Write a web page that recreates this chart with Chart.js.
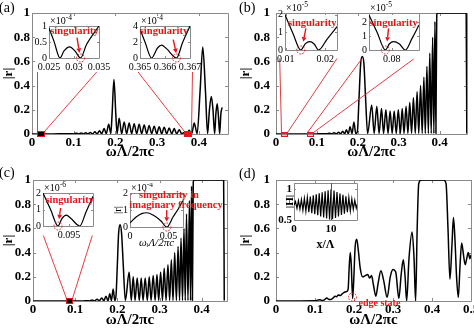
<!DOCTYPE html>
<html>
<head>
<meta charset="utf-8">
<script src="https://cdn.jsdelivr.net/npm/chart.js@4.4.1/dist/chart.umd.min.js"></script>
<style>
  html, body { margin: 0; padding: 0; background: #fff; }
  #fig { position: relative; width: 474px; height: 332px; overflow: hidden; }
  #fig canvas { position: absolute; }
</style>
</head>
<body>
<div id="fig"></div>
<script>
// ---- |r| spectra (omega*Lambda/2*pi*c vs |r|) ----
var aFreq = [0, 0.05, 0.095, 0.1, 0.106, 0.112, 0.118, 0.123, 0.129, 0.134, 0.14, 0.145, 0.151, 0.156, 0.162, 0.167, 0.173, 0.178, 0.184, 0.189,
  0.192, 0.1965, 0.201, 0.204, 0.209, 0.215, 0.221, 0.227, 0.233, 0.239, 0.245, 0.251, 0.257, 0.263, 0.269, 0.275, 0.281, 0.287, 0.293, 0.299,
  0.305, 0.311, 0.317, 0.323, 0.329, 0.335, 0.341, 0.347, 0.353, 0.359, 0.365, 0.371, 0.377, 0.383, 0.389, 0.396, 0.403, 0.4095, 0.416, 0.421,
  0.4255, 0.43, 0.434, 0.438, 0.441, 0.444, 0.447, 0.45, 0.453, 0.456];
var aAmp = [0, 0.001, 0.002, 0.001, 0.006, 0.001, 0.008, 0.001, 0.01, 0.001, 0.013, 0.001, 0.018, 0.001, 0.026, 0.002, 0.045, 0.002, 0.08, 0.003,
  0.16, 0.45, 0.16, 0.002, 0.13, 0.002, 0.1, 0.002, 0.09, 0.002, 0.085, 0.002, 0.08, 0.002, 0.075, 0.002, 0.07, 0.002, 0.065, 0.002,
  0.06, 0.002, 0.055, 0.002, 0.05, 0.002, 0.045, 0.002, 0.035, 0.002, 0.012, 0.001, 0.03, 0.002, 0.09, 0.003, 0.35, 0.72, 0.35, 0.003,
  0.2, 0.31, 0.2, 0.003, 0.17, 0.25, 0.15, 0.003, 0.17, 0.22];

var bFreq = [0, 0.1, 0.125, 0.13, 0.136, 0.142, 0.148, 0.153, 0.158, 0.163, 0.168, 0.172, 0.177, 0.181, 0.186, 0.1905, 0.195, 0.199, 0.203, 0.207,
  0.211, 0.215, 0.219, 0.224, 0.234, 0.24, 0.2465, 0.252, 0.258, 0.263, 0.2686, 0.274, 0.279, 0.284, 0.289, 0.294, 0.299, 0.304, 0.3086, 0.313,
  0.318, 0.3225, 0.327, 0.3315, 0.336, 0.3405, 0.345, 0.349, 0.3535, 0.3575, 0.3616, 0.365, 0.369, 0.3725, 0.376, 0.3795, 0.383, 0.386, 0.3886, 0.391,
  0.393, 0.395, 0.465, 0.4665];
var bAmp = [0, 0.001, 0.003, 0.006, 0.001, 0.01, 0.001, 0.015, 0.001, 0.022, 0.002, 0.035, 0.002, 0.06, 0.003, 0.1, 0.003, 0.02, 0.3, 0.58,
  0.64, 0.58, 0.3, 0.003, 0.24, 0.005, 0.23, 0.005, 0.21, 0.005, 0.2, 0.005, 0.19, 0.005, 0.19, 0.005, 0.2, 0.005, 0.21, 0.005,
  0.23, 0.005, 0.26, 0.005, 0.3, 0.005, 0.35, 0.005, 0.4, 0.005, 0.47, 0.005, 0.56, 0.005, 0.67, 0.005, 0.8, 0.005, 0.93, 0.005,
  0.98, 1, 1, 0.005];

var cFreq = [0, 0.12, 0.128, 0.134, 0.14, 0.146, 0.152, 0.157, 0.163, 0.168, 0.173, 0.178, 0.182, 0.186, 0.19, 0.194, 0.197, 0.2, 0.203, 0.2065,
  0.21, 0.214, 0.219, 0.228, 0.233, 0.2376, 0.242, 0.247, 0.252, 0.2566, 0.261, 0.266, 0.271, 0.2756, 0.28, 0.285, 0.2895, 0.294, 0.298, 0.3026,
  0.307, 0.311, 0.3155, 0.32, 0.324, 0.328, 0.332, 0.336, 0.34, 0.344, 0.3475, 0.351, 0.3545, 0.358, 0.361, 0.364, 0.3675, 0.371, 0.3735, 0.376,
  0.378, 0.38, 0.382, 0.452, 0.4535];
var cAmp = [0, 0.001, 0.003, 0.001, 0.008, 0.001, 0.015, 0.001, 0.025, 0.002, 0.04, 0.002, 0.06, 0.003, 0.1, 0.004, 0.05, 0.3, 0.56, 0.63,
  0.56, 0.3, 0.004, 0.24, 0.005, 0.2, 0.005, 0.19, 0.005, 0.19, 0.005, 0.19, 0.005, 0.2, 0.005, 0.21, 0.005, 0.22, 0.005, 0.24,
  0.005, 0.27, 0.005, 0.3, 0.005, 0.34, 0.005, 0.4, 0.005, 0.45, 0.005, 0.52, 0.005, 0.6, 0.005, 0.72, 0.005, 0.83, 0.005, 0.95,
  0.005, 0.98, 1, 1, 0.005];

var dFreq = [0, 0.1, 0.108, 0.113, 0.118, 0.125, 0.13, 0.136, 0.143, 0.148, 0.151, 0.155, 0.16, 0.165, 0.17, 0.174, 0.178, 0.182, 0.185, 0.188,
  0.1905, 0.193, 0.1965, 0.199, 0.203, 0.207, 0.211, 0.216, 0.222, 0.229, 0.235, 0.24, 0.245, 0.25, 0.256, 0.262, 0.269, 0.276, 0.285, 0.293,
  0.3, 0.307, 0.315, 0.321, 0.3265, 0.331, 0.335, 0.341, 0.349, 0.354, 0.358, 0.362, 0.366, 0.372, 0.43, 0.436, 0.441, 0.446, 0.451, 0.455,
  0.459, 0.463, 0.4675, 0.472, 0.476, 0.48, 0.485, 0.489, 0.493, 0.497, 0.5];
var dAmp = [0, 0.002, 0.008, 0.01, 0.004, 0.012, 0.025, 0.012, 0.016, 0.03, 0.04, 0.035, 0.05, 0.045, 0.06, 0.07, 0.075, 0.08, 0.1, 0.3,
  0.4, 0.3, 0.02, 0.15, 0.45, 0.51, 0.42, 0.27, 0.2, 0.21, 0.22, 0.19, 0.21, 0.13, 0.04, 0.15, 0.25, 0.17, 0.03, 0.2,
  0.26, 0.24, 0.02, 0.22, 0.34, 0.2, 0.0, 0.35, 0.57, 0.35, 0.0, 0.6, 0.97, 1.0, 1.0, 0.97, 0.6, 0.18, 0.45, 0.69,
  0.5, 0.2, 0.03, 0.3, 0.48, 0.4, 0.3, 0.35, 0.4, 0.35, 0.38];

// ---- close-ups around the singularities (amplitudes in units of the x10^n label) ----
var a1Freq = [0.025, 0.026, 0.0272, 0.028, 0.0291, 0.0302, 0.0313, 0.0325, 0.035];
var a1Amp = [0.93, 0.52, 0, 0.22, 0.35, 0.22, 0, 0.42, 1.0];
var a2Freq = [0.365, 0.3652, 0.36546, 0.3657, 0.36586, 0.36605, 0.36646, 0.3667, 0.367];
var a2Amp = [3.6, 2.0, 0, 1.25, 1.6, 1.2, 0, 1.9, 4.0];
var b1Freq = [0.0098, 0.0118, 0.0138, 0.015, 0.0161, 0.0172, 0.0183, 0.0205, 0.023];
var b1Amp = [2.0, 0.95, 0, 0.36, 0.47, 0.34, 0, 0.62, 1.32];
var b2Freq = [0.075, 0.0768, 0.0786, 0.0795, 0.0804, 0.0817, 0.083, 0.0845, 0.086];
var b2Amp = [2.5, 1.25, 0, 0.45, 0.6, 0.43, 0, 0.85, 1.79];
var c1Freq = [0.0938, 0.09415, 0.09449, 0.09467, 0.09487, 0.09509, 0.09549, 0.09578, 0.0961];
var c1Amp = [2.0, 1.0, 0, 0.45, 0.66, 0.45, 0, 0.85, 1.8];
var c2Imag = [0, 0.008, 0.016, 0.022, 0.03, 0.04, 0.048, 0.056, 0.063, 0.069];
var c2Amp = [0.25, 0.6, 0.82, 0.86, 0.72, 0.38, 0, 0.6, 1.1, 1.6];

// |H| field profile of the edge state
var dPos = [0, 0.4, 0.8, 1.2, 1.6, 2.0, 2.4, 2.8, 3.2, 3.6, 4.0, 4.4, 4.8, 5.2, 5.6, 6.0, 6.4, 6.8, 7.2, 7.6, 8.0, 8.4,
  8.8, 9.2, 9.6, 10.0, 10.4, 10.8, 11.2, 11.6, 12.0, 12.4, 12.8, 13.2, 13.6, 14.0, 14.4, 14.8, 15.2, 15.6, 16.0, 16.4, 16.8, 17];
var dField = [0.74, 0.8, 0.69, 0.815, 0.676, 0.832, 0.66, 0.849, 0.643, 0.866, 0.626, 0.882, 0.609, 0.899, 0.592, 0.916, 0.576, 0.933, 0.559, 0.95, 0.542, 0.966,
  0.525, 0.983, 0.508, 1.0, 0.511, 0.977, 0.534, 0.954, 0.557, 0.931, 0.58, 0.908, 0.603, 0.886, 0.626, 0.863, 0.649, 0.84, 0.672, 0.817, 0.695, 0.75];

// ---- tick values ----
var freqTicks = [0, 0.1, 0.2, 0.3, 0.4];
var freqTicksD = [0, 0.1, 0.2, 0.3, 0.4, 0.5];
var rTicks = [0, 0.2, 0.4, 0.6, 0.8, 1];
var a1XTicks = [0.025, 0.03, 0.035], a1YTicks = [0, 0.5, 1];
var a2XTicks = [0.365, 0.366, 0.367], a2YTicks = [0, 2, 4];
var b1XTicks = [0.01, 0.02], b1YTicks = [0, 1, 2];
var b2XTicks = [0.08], b2YTicks = [0, 1, 2];
var c1XTicks = [0.095], c1YTicks = [0, 1, 2];
var c2XTicks = [0, 0.05], c2YTicks = [0, 1, 2];
var dInXTicks = [0, 10], dInYTicks = [0.5, 1];

var RED = '#e5161d';
var LINK = 'rgba(224, 40, 44, 0.9)';
var MARK_FILL = 'rgba(240, 150, 152, 0.55)';
var FRAME = '#8a8a8a';
var SERIF = "'Liberation Serif', 'Times New Roman', serif";

Chart.defaults.font.family = SERIF;
Chart.defaults.color = '#000';

var fig = document.getElementById('fig');

function addCanvas(left, top, w, h) {
  var c = document.createElement('canvas');
  c.width = w; c.height = h;
  c.style.left = left + 'px'; c.style.top = top + 'px';
  c.style.width = w + 'px'; c.style.height = h + 'px';
  fig.appendChild(c);
  return c;
}

function zipPoints(xs, ys) {
  return xs.map(function (x, i) { return { x: x, y: ys[i] }; });
}

function fixedTicks(values) {
  return function (scale) {
    scale.ticks = values.map(function (v) { return { value: v }; });
  };
}

function tickText(v) { return String(v); }

// box + inward tick marks on all four sides
var frameTicks = {
  id: 'frameTicks',
  beforeDraw: function (chart, args, opts) {
    if (!opts.fill) return;
    var a = chart.chartArea, ctx = chart.ctx;
    ctx.save();
    ctx.fillStyle = opts.fill;
    ctx.fillRect(a.left, a.top, a.right - a.left, a.bottom - a.top);
    ctx.restore();
  },
  beforeDatasetsDraw: function (chart, args, opts) {
    var ctx = chart.ctx, a = chart.chartArea, sx = chart.scales.x, sy = chart.scales.y, n = opts.len;
    ctx.save();
    ctx.strokeStyle = FRAME;
    ctx.lineWidth = 1;
    ctx.beginPath();
    sx.ticks.forEach(function (t) {
      var p = Math.round(sx.getPixelForValue(t.value)) + 0.5;
      ctx.moveTo(p, a.bottom); ctx.lineTo(p, a.bottom - n);
      ctx.moveTo(p, a.top); ctx.lineTo(p, a.top + n);
    });
    sy.ticks.forEach(function (t) {
      var p = Math.round(sy.getPixelForValue(t.value)) + 0.5;
      ctx.moveTo(a.left, p); ctx.lineTo(a.left + n, p);
      ctx.moveTo(a.right, p); ctx.lineTo(a.right - n, p);
    });
    ctx.rect(Math.round(a.left) + 0.5, Math.round(a.top) + 0.5,
      Math.round(a.right - a.left), Math.round(a.bottom - a.top));
    ctx.stroke();
    ctx.restore();
  }
};

function drawArrow(ctx, x1, y1, x2, y2) {
  var ang = Math.atan2(y2 - y1, x2 - x1), h = 4.5, w = 2.4;
  var bx = x2 - h * Math.cos(ang), by = y2 - h * Math.sin(ang);
  ctx.beginPath();
  ctx.moveTo(x1, y1); ctx.lineTo(bx, by);
  ctx.stroke();
  ctx.beginPath();
  ctx.moveTo(x2, y2);
  ctx.lineTo(bx + w * Math.sin(ang), by - w * Math.cos(ang));
  ctx.lineTo(bx - w * Math.sin(ang), by + w * Math.cos(ang));
  ctx.closePath();
  ctx.fill();
}

function dashedCircle(ctx, x, y, r) {
  ctx.save();
  ctx.setLineDash([1.6, 1.4]);
  ctx.lineWidth = 1;
  ctx.beginPath();
  ctx.arc(x, y, r, 0, Math.PI * 2);
  ctx.stroke();
  ctx.restore();
}

// exponent label, red notes, arrows and circles inside the close-ups
var insetNotes = {
  id: 'insetNotes',
  afterDatasetsDraw: function (chart, args, o) {
    var ctx = chart.ctx, sx = chart.scales.x, sy = chart.scales.y, a = chart.chartArea;
    ctx.save();
    if (o.vline !== undefined) {
      var vx = Math.round(sx.getPixelForValue(o.vline)) + 0.5;
      ctx.strokeStyle = RED; ctx.lineWidth = 1;
      ctx.beginPath(); ctx.moveTo(vx, a.top); ctx.lineTo(vx, a.bottom); ctx.stroke();
    }
    if (o.exp) {
      ctx.fillStyle = '#000';
      ctx.textAlign = 'left'; ctx.textBaseline = 'alphabetic';
      ctx.font = '10px ' + SERIF;
      ctx.fillText('\u00d710', a.left + 1, a.top - 2);
      var w = ctx.measureText('\u00d710').width;
      ctx.font = '7.5px ' + SERIF;
      ctx.fillText(o.exp, a.left + 1 + w, a.top - 6.5);
    }
    ctx.strokeStyle = RED; ctx.fillStyle = RED; ctx.lineWidth = 1.4;
    if (o.arrow) {
      drawArrow(ctx, sx.getPixelForValue(o.arrow[0]), sy.getPixelForValue(o.arrow[1]),
        sx.getPixelForValue(o.arrow[2]), sy.getPixelForValue(o.arrow[3]));
    }
    if (o.circle) {
      dashedCircle(ctx, sx.getPixelForValue(o.circle[0]), sy.getPixelForValue(o.circle[1]), 4);
    }
    ctx.font = 'bold 10.5px ' + SERIF;
    ctx.textAlign = 'center'; ctx.textBaseline = 'middle';
    (o.notes || []).forEach(function (n) {
      ctx.fillText(n[0], sx.getPixelForValue(n[1]), sy.getPixelForValue(n[2]));
    });
    ctx.restore();
  }
};

// panel letter, zoom squares with their connector lines, edge-state marker
var zoomLinks = {
  id: 'zoomLinks',
  afterDraw: function (chart, args, o) {
    var ctx = chart.ctx, sx = chart.scales.x, sy = chart.scales.y;
    var ox = o.origin[0], oy = o.origin[1];
    var y0 = Math.round(sy.getPixelForValue(0));
    ctx.save();
    ctx.globalAlpha = 1;
    ctx.globalCompositeOperation = 'source-over';
    ctx.setLineDash([]);
    ctx.lineWidth = 1;
    (o.marks || []).forEach(function (m) {
      var px = Math.round(sx.getPixelForValue(m.x));
      var l = px - Math.floor(m.w / 2), t = y0 - Math.floor(m.h / 2);
      ctx.strokeStyle = LINK;
      m.from.forEach(function (p, k) {
        ctx.beginPath();
        ctx.moveTo(p[0] - ox, p[1] - oy);
        ctx.lineTo(k === 0 ? l + 0.5 : l + m.w - 0.5, t + 0.5);
        ctx.stroke();
      });
      // tinted interior, then a 1px red outline built from filled strips
      ctx.fillStyle = m.fill || MARK_FILL;
      ctx.fillRect(l + 1, t + 1, m.w - 2, m.h - 2);
      ctx.fillStyle = RED;
      ctx.fillRect(l, t, m.w, 1);
      ctx.fillRect(l, t + m.h - 1, m.w, 1);
      ctx.fillRect(l, t, 1, m.h);
      ctx.fillRect(l + m.w - 1, t, 1, m.h);
    });
    if (o.edge) {
      var ex = sx.getPixelForValue(o.edge.x), ey = sy.getPixelForValue(o.edge.y);
      ctx.strokeStyle = RED; ctx.fillStyle = RED;
      dashedCircle(ctx, ex, ey, 4);
      ctx.font = 'bold 10px ' + SERIF;
      ctx.textAlign = 'left'; ctx.textBaseline = 'middle';
      ctx.fillText(o.edge.text, ex + 6, ey + 6);
    }
    ctx.fillStyle = '#000';
    ctx.font = '14px ' + SERIF;
    ctx.textAlign = 'left'; ctx.textBaseline = 'middle';
    ctx.fillText(o.label, o.labelAt[0] - ox, o.labelAt[1] - oy);
    ctx.restore();
  }
};

function makePanel(p) {
  var W = 237, H = 166;
  var cv = addCanvas(p.origin[0], p.origin[1], W, H);
  return new Chart(cv, {
    type: 'line',
    data: {
      datasets: [{
        data: zipPoints(p.freq, p.amp),
        borderColor: '#000',
        borderWidth: 1.5,
        pointRadius: 0,
        cubicInterpolationMode: 'monotone'
      }]
    },
    options: {
      responsive: false,
      animation: false,
      devicePixelRatio: 1,
      events: [],
      layout: { padding: { left: 0, top: p.area[1], right: W - p.area[2], bottom: 0 } },
      plugins: {
        legend: { display: false },
        tooltip: { enabled: false },
        frameTicks: { len: 3 },
        zoomLinks: { origin: p.origin, label: p.label, labelAt: p.labelAt, marks: p.marks, edge: p.edge }
      },
      scales: {
        x: {
          type: 'linear', min: 0, max: p.xMax,
          grid: { display: false, drawTicks: false },
          border: { display: false },
          afterBuildTicks: fixedTicks(p.xTicks),
          afterFit: function (s) { s.height = H - p.area[3]; s.paddingLeft = 0; s.paddingRight = 0; },
          ticks: { autoSkip: false, maxRotation: 0, padding: 1, color: '#000', font: { size: 13, weight: 'bold' }, callback: tickText },
          title: { display: true, text: '\u03c9\u039b/2\u03c0c', color: '#000', font: { size: 15, weight: 'bold' }, padding: { top: 0, bottom: p.titlePad } }
        },
        y: {
          type: 'linear', min: 0, max: 1,
          grid: { display: false, drawTicks: false },
          border: { display: false },
          afterBuildTicks: fixedTicks(rTicks),
          afterFit: function (s) { s.width = p.area[0]; s.paddingTop = 0; s.paddingBottom = 0; },
          ticks: { autoSkip: false, padding: p.yPad, color: '#000', font: { size: 13, weight: 'bold' }, callback: tickText },
          title: { display: true, text: '|r|', color: '#000', font: { size: 13, weight: 'bold' }, padding: { top: 0.5, bottom: 0 } }
        }
      }
    },
    plugins: [frameTicks, zoomLinks]
  });
}

function makeInset(s) {
  var bw = s.box[2] - s.box[0], bh = s.box[3] - s.box[1];
  var w = bw + s.pad[0] + s.pad[2], h = bh + s.pad[1] + s.pad[3];
  var cv = addCanvas(s.box[0] - s.pad[0], s.box[1] - s.pad[1], w, h);
  var tickFont = s.bold ? { size: 11, weight: 'bold' } : { size: 10, weight: 'normal' };
  return new Chart(cv, {
    type: 'line',
    data: {
      datasets: [{
        data: zipPoints(s.xs, s.ys),
        borderColor: '#000',
        borderWidth: 1.2,
        pointRadius: 0,
        cubicInterpolationMode: s.zigzag ? 'default' : 'monotone',
        tension: 0
      }]
    },
    options: {
      responsive: false,
      animation: false,
      devicePixelRatio: 1,
      events: [],
      layout: { padding: { left: 0, top: s.pad[1], right: s.pad[2], bottom: 0 } },
      plugins: {
        legend: { display: false },
        tooltip: { enabled: false },
        frameTicks: { len: 2, fill: '#fff' },
        insetNotes: s.notes
      },
      scales: {
        x: {
          type: 'linear', min: s.xRange[0], max: s.xRange[1],
          grid: { display: false, drawTicks: false },
          border: { display: false },
          afterBuildTicks: fixedTicks(s.xTicks),
          afterFit: function (sc) { sc.height = s.pad[3]; sc.paddingLeft = 0; sc.paddingRight = 0; },
          ticks: { autoSkip: false, maxRotation: 0, padding: 3, color: '#000', font: tickFont, callback: tickText },
          title: s.xTitle ? {
            display: true, text: s.xTitle.text, color: '#000',
            font: s.xTitle.font, padding: { top: 0, bottom: s.xTitle.pad }
          } : { display: false }
        },
        y: {
          type: 'linear', min: s.yRange[0], max: s.yRange[1],
          grid: { display: false, drawTicks: false },
          border: { display: false },
          afterBuildTicks: fixedTicks(s.yTicks),
          afterFit: function (sc) { sc.width = s.pad[0]; sc.paddingTop = 0; sc.paddingBottom = 0; },
          ticks: { autoSkip: false, padding: 2, color: '#000', font: tickFont, callback: tickText },
          title: s.yTitle ? {
            display: true, text: s.yTitle.text, color: '#000',
            font: s.yTitle.font, padding: { top: s.yTitle.pad, bottom: 0 }
          } : { display: false }
        }
      }
    },
    plugins: [frameTicks, insetNotes]
  });
}

// ---- main panels ----
makePanel({
  origin: [0, 0], area: [32, 13, 228, 134], xMax: 0.47, xTicks: freqTicks,
  freq: aFreq, amp: aAmp, yPad: 2, titlePad: 5, label: '(a)', labelAt: [-1, 8],
  marks: [
    { x: 0.0225, w: 8, h: 6, from: [[37.5, 72], [96.7, 72]] },
    { x: 0.373, w: 8, h: 6, from: [[138, 72], [192.5, 72]] }
  ]
});
makePanel({
  origin: [237, 0], area: [39, 13, 230, 134], xMax: 0.467, xTicks: freqTicks,
  freq: bFreq, amp: bAmp, yPad: 6, titlePad: 5, label: '(b)', labelAt: [239, 8],
  marks: [
    { x: 0.0204, w: 7, h: 5, fill: 'rgba(232, 90, 95, 0.45)', from: [[279.7, 58.5], [337, 58.5]] },
    { x: 0.0833, w: 7, h: 5, fill: 'rgba(232, 90, 95, 0.45)', from: [[362, 58.5], [413.7, 59]] }
  ]
});
makePanel({
  origin: [0, 166], area: [33, 14, 227, 135], xMax: 0.46, xTicks: freqTicks,
  freq: cFreq, amp: cAmp, yPad: 2, titlePad: 3, label: '(c)', labelAt: [-1, 173],
  marks: [
    { x: 0.0848, w: 7, h: 6, from: [[43.3, 235.5], [92.3, 235.5]] }
  ]
});
makePanel({
  origin: [237, 166], area: [39, 14, 234, 135], xMax: 0.5, xTicks: freqTicksD,
  freq: dFreq, amp: dAmp, yPad: 6, titlePad: 3, label: '(d)', labelAt: [239, 174],
  edge: { x: 0.196, y: 0.033, text: 'edge state' }
});

// ---- close-ups ----
makeInset({
  box: [49, 26, 99, 58], pad: [18, 12, 16, 16],
  xs: a1Freq, ys: a1Amp, xRange: [0.025, 0.035], yRange: [0, 1], xTicks: a1XTicks, yTicks: a1YTicks,
  notes: { exp: '-4', circle: [0.0313, 0], arrow: [0.0306, 0.64, 0.0311, 0.16], notes: [['singularity', 0.0301, 0.84]] }
});
makeInset({
  box: [140, 26, 190, 58], pad: [18, 12, 16, 16],
  xs: a2Freq, ys: a2Amp, xRange: [0.365, 0.367], yRange: [0, 4], xTicks: a2XTicks, yTicks: a2YTicks,
  notes: { exp: '-4', circle: [0.36646, 0], arrow: [0.36633, 2.3, 0.36645, 0.6], notes: [['singularity', 0.36596, 3.37]] }
});
makeInset({
  box: [285, 13, 337, 50], pad: [14, 12, 12, 14],
  xs: b1Freq, ys: b1Amp, xRange: [0.0098, 0.023], yRange: [0, 2.1], xTicks: b1XTicks, yTicks: b1YTicks,
  notes: { exp: '-5', circle: [0.0138, 0], arrow: [0.0151, 1.23, 0.01445, 0.47], notes: [['singularity', 0.0167, 1.52]] }
});
makeInset({
  box: [369, 13, 419, 50], pad: [14, 12, 12, 14],
  xs: b2Freq, ys: b2Amp, xRange: [0.075, 0.086], yRange: [0, 2.65], xTicks: b2XTicks, yTicks: b2YTicks,
  notes: { exp: '-5', circle: [0.0786, 0], arrow: [0.0793, 1.55, 0.079, 0.6], notes: [['singularity', 0.0804, 1.91]] }
});
makeInset({
  box: [43, 193, 93, 226], pad: [14, 12, 14, 16],
  xs: c1Freq, ys: c1Amp, xRange: [0.0938, 0.0961], yRange: [0, 2], xTicks: c1XTicks, yTicks: c1YTicks,
  notes: { exp: '-6', circle: [0.09449, 0], arrow: [0.09461, 1.09, 0.09454, 0.41], notes: [['singularity', 0.09503, 1.54]] }
});
makeInset({
  box: [130, 193, 183, 227], pad: [18, 10, 42, 24],
  xs: c2Imag, ys: c2Amp, xRange: [0, 0.069], yRange: [0, 2.05], xTicks: c2XTicks, yTicks: c2YTicks,
  yTitle: { text: '|r|', font: { size: 11 }, pad: 0 },
  xTitle: { text: '\u03c9\u1d62\u039b/2\u03c0c', font: { size: 11, style: 'italic' }, pad: 1 },
  notes: {
    exp: '-4', circle: [0.048, 0], arrow: [0.0478, 1.02, 0.0478, 0.32],
    notes: [['singularity in', 0.0508, 1.93], ['imaginary frequency', 0.0599, 1.33]]
  }
});
makeInset({
  box: [294, 183, 357, 220], pad: [17, 4, 4, 33], bold: true, zigzag: true,
  xs: dPos, ys: dField, xRange: [0, 17], yRange: [0.5, 1.1], xTicks: dInXTicks, yTicks: dInYTicks,
  yTitle: { text: '|H|', font: { size: 11, weight: 'bold' }, pad: 7 },
  xTitle: { text: 'x/\u039b', font: { size: 12, weight: 'bold' }, pad: 1 },
  notes: { vline: 10 }
});
</script>
</body>
</html>
